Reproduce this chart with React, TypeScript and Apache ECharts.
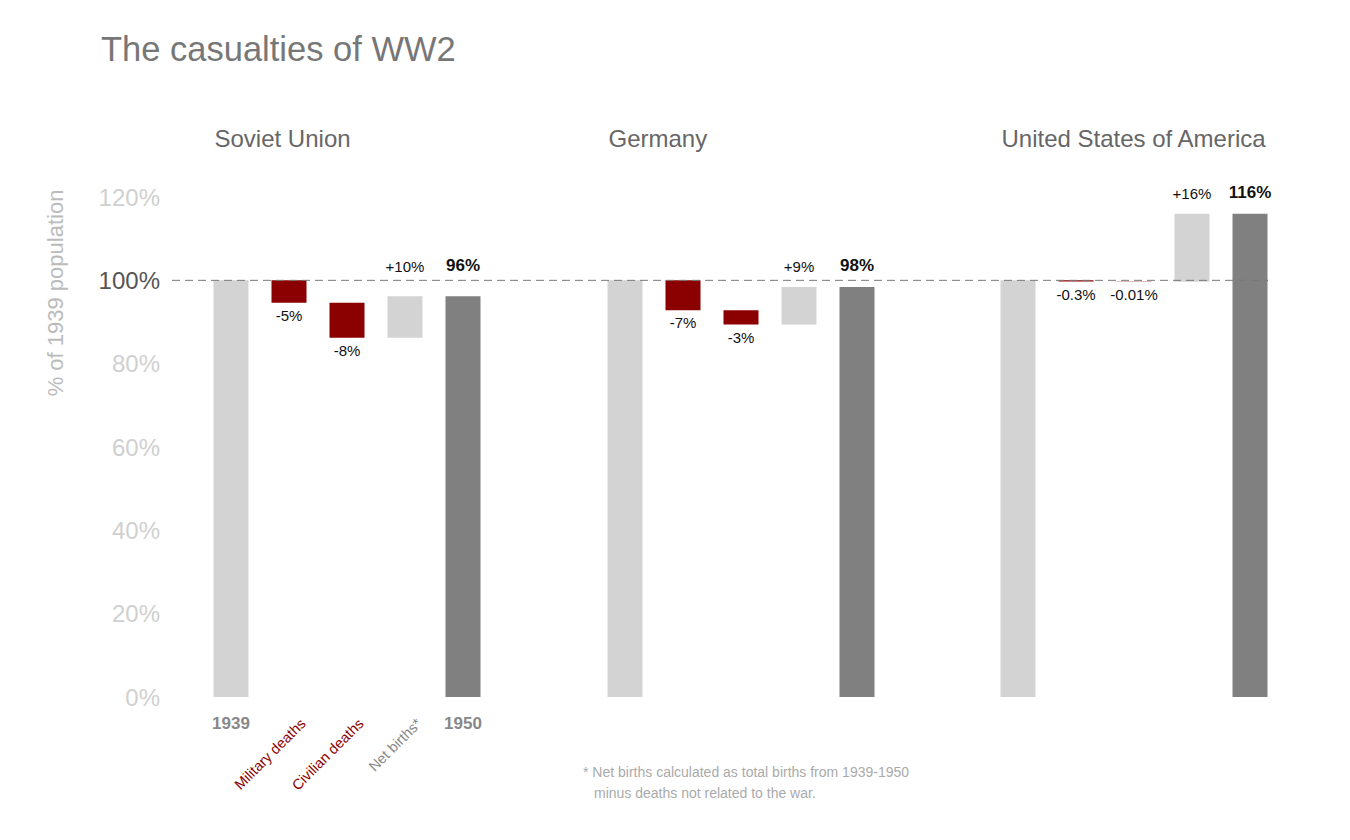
import React, { useEffect, useRef } from 'react';
import * as echarts from 'echarts';

// Population change 1939 -> 1950, as % of the 1939 population
const countries = ['Soviet Union', 'Germany', 'United States of America'];
const stages = ['1939', 'Military deaths', 'Civilian deaths', 'Net births*', '1950'];
const basePopulation = 100;
const militaryDeaths = [-5.4, -7.2, -0.3];
const civilianDeaths = [-8.4, -3.4, -0.01];
const netBirths = [10.0, 9.0, 16.3];
const yMax = 120;
const yInterval = 20;
const footnote = [
  '* Net births calculated as total births from 1939-1950',
  'minus deaths not related to the war.',
];

const FONT = '"Liberation Sans", Arial, Helvetica, sans-serif';
const COLOR_START = '#d3d3d3';
const COLOR_LOSS = '#8b0000';
const COLOR_BIRTHS = '#d3d3d3';
const COLOR_END = '#808080';

// layout
const GRID_TOP = 197;
const GRID_H = 500;
const GROUP_LEFT = [202, 596, 989];
const GROUP_W = 290;
const BAR_W = 35;
const PX_PER_PCT = GRID_H / yMax;

const fmtDelta = (v: number) => {
  const a = Math.abs(v);
  const shown = a >= 1 ? Math.round(a) : a;
  return (v < 0 ? '-' : '+') + shown + '%';
};
const fmtLevel = (v: number) => Math.round(v) + '%';

// keeps labels above bars clear of the dashed 100% line
const topDistance = (top: number) =>
  Math.max(12.5, (basePopulation - top) * PX_PER_PCT + 6);

function buildGroup(i: number) {
  const deltas = [militaryDeaths[i], civilianDeaths[i], netBirths[i]];
  const deltaColors = [COLOR_LOSS, COLOR_LOSS, COLOR_BIRTHS];
  const base: number[] = [0];
  const items: any[] = [
    { value: basePopulation, itemStyle: { color: COLOR_START }, label: { show: false } },
  ];
  let level = basePopulation;
  deltas.forEach((d, k) => {
    const next = level + d;
    base.push(Math.min(level, next));
    const isUp = d >= 0;
    items.push({
      value: Math.abs(d),
      itemStyle: { color: deltaColors[k] },
      label: {
        show: true,
        position: isUp ? 'top' : 'bottom',
        distance: isUp ? topDistance(next) : 5,
        formatter: fmtDelta(d),
        fontSize: 15,
        color: '#111',
      },
    });
    level = next;
  });
  base.push(0);
  items.push({
    value: level,
    itemStyle: { color: COLOR_END },
    label: {
      show: true,
      position: 'top',
      distance: topDistance(level),
      formatter: fmtLevel(level),
      fontSize: 17,
      fontWeight: 'bold',
      color: '#111',
    },
  });
  return [
    {
      type: 'bar',
      xAxisIndex: i,
      yAxisIndex: i,
      stack: 'waterfall' + i,
      barWidth: BAR_W,
      silent: true,
      itemStyle: { color: 'rgba(0,0,0,0)' },
      data: base,
      z: 2,
    },
    {
      type: 'bar',
      name: countries[i],
      xAxisIndex: i,
      yAxisIndex: i,
      stack: 'waterfall' + i,
      barWidth: BAR_W,
      data: items,
      z: 2,
    },
  ];
}

export default function App() {
  const ref = useRef<HTMLDivElement>(null);

  useEffect(() => {
    if (!ref.current) return;
    const chart = echarts.init(ref.current, null, { renderer: 'svg' });

    const grids: any[] = GROUP_LEFT.map((left) => ({
      left,
      top: GRID_TOP,
      width: GROUP_W,
      height: GRID_H,
    }));
    // shared value axis + reference line
    grids.push({ left: 172, top: GRID_TOP, width: 1096, height: GRID_H });
    // rotated stage labels
    grids.push({ left: GROUP_LEFT[0] + 14, top: GRID_TOP, width: GROUP_W, height: GRID_H });

    const xAxes: any[] = GROUP_LEFT.map((_, i) => ({
      type: 'category',
      gridIndex: i,
      data: stages,
      axisLine: { show: false },
      axisTick: { show: false },
      axisLabel: {
        show: i === 0,
        interval: 0,
        margin: 18,
        fontSize: 17,
        fontWeight: 'bold',
        color: '#888',
        fontFamily: FONT,
        formatter: (v: string, idx: number) => (idx === 0 || idx === 4 ? v : ''),
      },
    }));
    xAxes.push({ type: 'value', gridIndex: 3, min: 0, max: 1, show: false });
    xAxes.push({
      type: 'category',
      gridIndex: 4,
      data: stages,
      axisLine: { show: false },
      axisTick: { show: false },
      axisLabel: {
        interval: 0,
        rotate: 45,
        margin: 24,
        fontSize: 14.5,
        fontFamily: FONT,
        color: (v: string) => (v === stages[1] || v === stages[2] ? COLOR_LOSS : '#888'),
        formatter: (v: string, idx: number) => (idx === 0 || idx === 4 ? '' : v),
      },
    });

    const yAxes: any[] = GROUP_LEFT.map((_, i) => ({
      type: 'value',
      gridIndex: i,
      min: 0,
      max: yMax,
      show: false,
    }));
    yAxes.push({
      type: 'value',
      gridIndex: 3,
      min: 0,
      max: yMax,
      interval: yInterval,
      axisLine: { show: false },
      axisTick: { show: false },
      splitLine: { show: false },
      axisLabel: {
        margin: 12,
        fontSize: 24,
        fontFamily: FONT,
        formatter: '{value}%',
        color: (v: any) => (Number(v) === basePopulation ? '#555' : '#d0d0d0'),
      },
    });
    yAxes.push({ type: 'value', gridIndex: 4, min: 0, max: yMax, show: false });

    const series: any[] = [];
    countries.forEach((_, i) => series.push(...buildGroup(i)));
    series.push({
      type: 'line',
      xAxisIndex: 3,
      yAxisIndex: 3,
      data: [
        [0, basePopulation],
        [1, basePopulation],
      ],
      symbol: 'none',
      silent: true,
      lineStyle: { color: '#777', width: 1, type: [8, 5] },
      z: 5,
    });

    const graphics: any[] = [
      {
        type: 'text',
        x: 101,
        y: 49,
        style: {
          text: 'The casualties of WW2',
          font: `34.5px ${FONT}`,
          fill: '#777',
          textVerticalAlign: 'middle',
        },
      },
      {
        type: 'text',
        x: 55,
        y: 293,
        rotation: Math.PI / 2,
        style: {
          text: '% of 1939 population',
          font: `22px ${FONT}`,
          fill: '#bbb',
          textAlign: 'center',
          textVerticalAlign: 'middle',
        },
      },
      ...countries.map((c, i) => ({
        type: 'text',
        x: GROUP_LEFT[i] + GROUP_W / 10 - BAR_W / 2 + 1,
        y: 138.5,
        style: {
          text: c,
          font: `24px ${FONT}`,
          fill: '#666',
          textVerticalAlign: 'middle',
        },
      })),
      {
        type: 'text',
        x: 583,
        y: 772,
        style: {
          text: footnote[0],
          font: `14px ${FONT}`,
          fill: '#aaa',
          textVerticalAlign: 'middle',
        },
      },
      {
        type: 'text',
        x: 594,
        y: 793,
        style: {
          text: footnote[1],
          font: `14px ${FONT}`,
          fill: '#aaa',
          textVerticalAlign: 'middle',
        },
      },
    ];

    chart.setOption({
      animation: false,
      textStyle: { fontFamily: FONT },
      grid: grids,
      xAxis: xAxes,
      yAxis: yAxes,
      series,
      graphic: graphics,
    });

    return () => chart.dispose();
  }, []);

  return (
    <div
      ref={ref}
      style={{ position: 'fixed', left: 0, top: 0, width: 1350, height: 840, background: '#fff' }}
    />
  );
}
